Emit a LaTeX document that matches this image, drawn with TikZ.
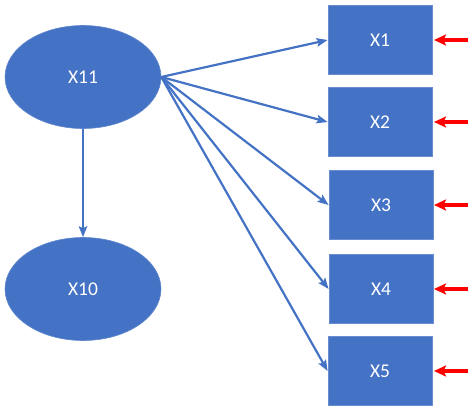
\documentclass[tikz,border=0pt]{standalone}
\usepackage{fontspec}
\setmainfont{Carlito}
\usetikzlibrary{shapes.geometric,arrows.meta}
\definecolor{nblue}{HTML}{4472C4}
\definecolor{nred}{HTML}{FF0000}
\begin{document}
\begin{tikzpicture}[x=1pt,y=-1pt,
  latent/.style={ellipse,fill=nblue,draw=nblue!85!white,line width=0.6pt,minimum width=156pt,minimum height=103pt,inner sep=0pt,text=white,font=\fontsize{19.5}{22}\selectfont},
  obs/.style={rectangle,fill=nblue,draw=nblue!80!white,line width=0.8pt,minimum width=104pt,minimum height=69pt,inner sep=0pt,text=white,font=\fontsize{19.5}{22}\selectfont},
  load/.style={draw=nblue,line width=2.2pt,-{Stealth[length=11pt,width=8.5pt,inset=2pt]}},
  err/.style={draw=nred,line width=3.2pt,-{Stealth[length=12pt,width=11pt,inset=2.5pt]}}]
\useasboundingbox (0,0) rectangle (474,412);
\node[latent] (x11) at (83,77) {X11};
\node[latent] (x10) at (83,289) {X10};
\node[obs] (x1) at (380,40) {X1};
\node[obs] (x2) at (380,122) {X2};
\node[obs] (x3) at (381,205) {X3};
\node[obs] (x4) at (381,289) {X4};
\node[obs] (x5) at (380,371) {X5};
\coordinate (src) at (x11.east);
\draw[load] (x11.south) -- (x10.north);
\foreach \t in {x1,x2,x3,x4,x5}{
  \draw[load] (src) -- (\t.west);
}
\foreach \t/\y in {x1/40,x2/122,x3/205,x4/289,x5/371}{
  \coordinate (e\t) at (468,\y);
  \coordinate (h\t) at (434,\y);
  \draw[err] (e\t) -- (h\t);
}
\end{tikzpicture}
\end{document}
